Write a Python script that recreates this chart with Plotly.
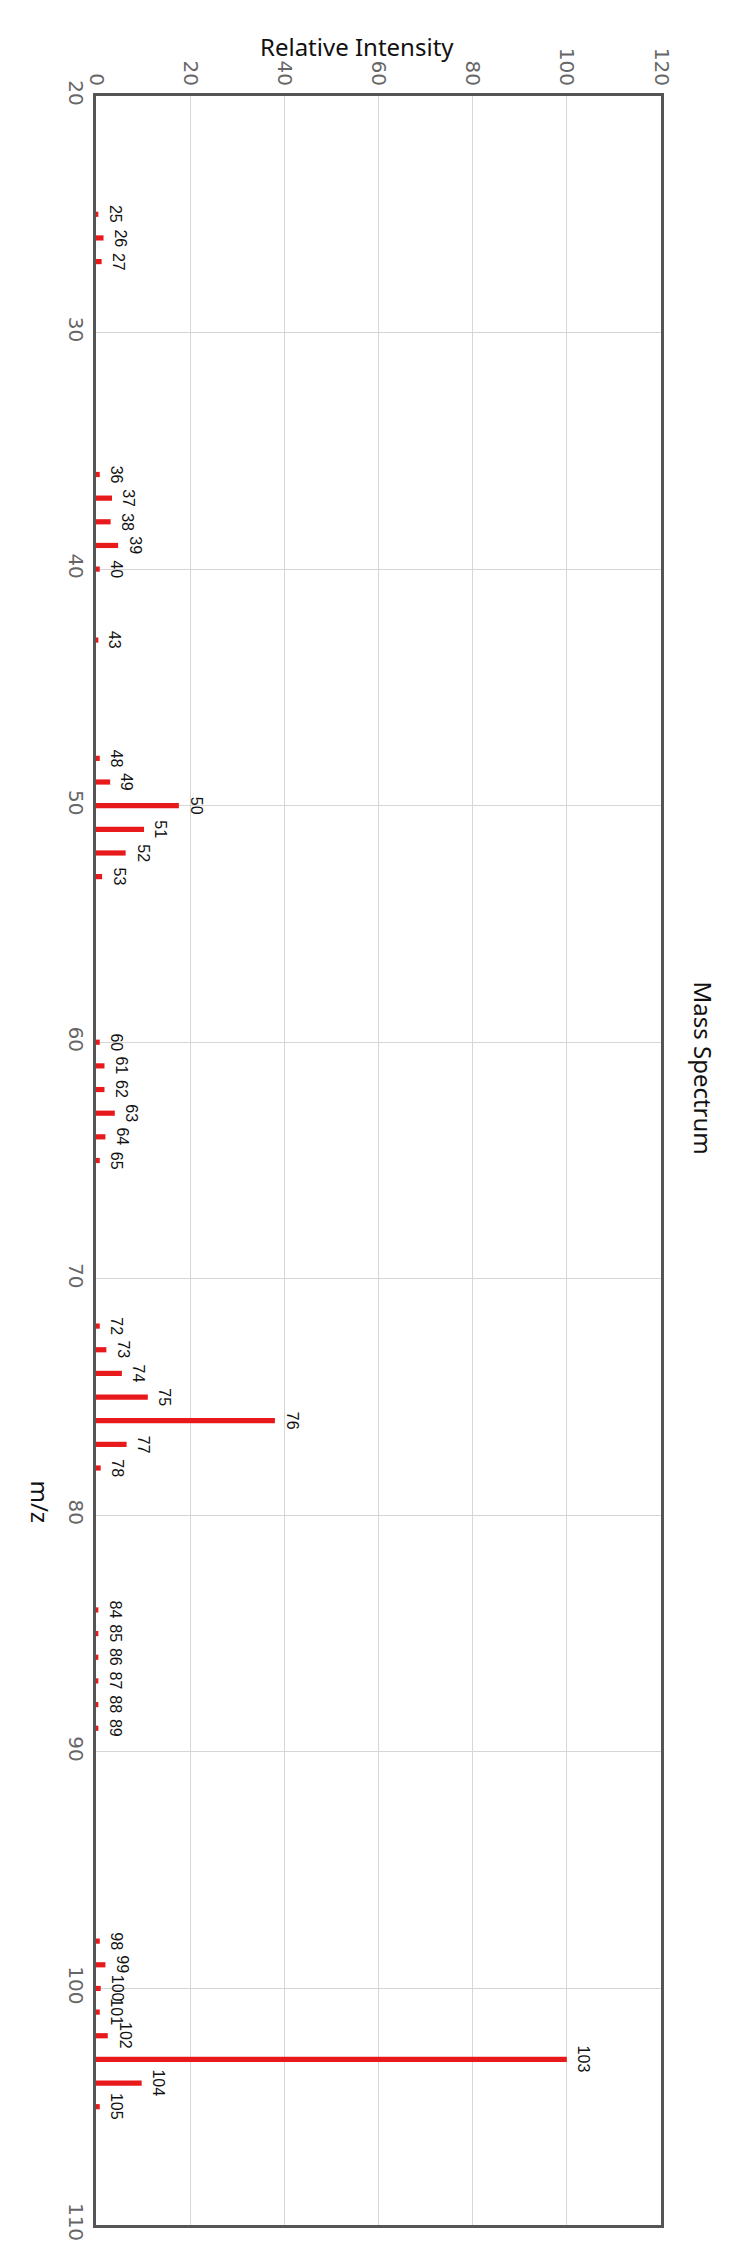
import plotly.graph_objects as go

mz = [25, 26, 27, 36, 37, 38, 39, 40, 43, 48, 49, 50, 51, 52, 53,
      60, 61, 62, 63, 64, 65, 72, 73, 74, 75, 76, 77, 78,
      84, 85, 86, 87, 88, 89, 98, 99, 100, 101, 102, 103, 104, 105]
intensity = [0.5, 1.6, 1.2, 0.8, 3.4, 3.1, 4.7, 0.8, 0.5, 0.8, 3.0, 17.6, 10.2, 6.3, 1.3,
             0.8, 1.8, 1.8, 4.0, 2.0, 0.8, 0.8, 2.2, 5.5, 11.0, 38.0, 6.5, 1.0,
             0.5, 0.5, 0.5, 0.5, 0.5, 0.5, 0.8, 2.0, 1.0, 0.8, 2.5, 100.0, 9.7, 0.8]
x_ticks = [0, 20, 40, 60, 80, 100, 120]
y_ticks = [20, 30, 40, 50, 60, 70, 80, 90, 100, 110]

fig = go.Figure(go.Bar(x=intensity, y=mz, orientation="h", width=0.22,
                       marker=dict(color="#e8191a", line=dict(width=0))))

ann = [dict(x=v, y=m, xref="x", yref="y", text=str(m), textangle=90, showarrow=False,
            xshift=17, font=dict(family="Liberation Sans", size=16, color="#111"))
       for m, v in zip(mz, intensity)]
L, R, T, B = 88, 86, 88, 44
W, H = 739, 2261
pw, ph = W - L - R, H - T - B
def px(x, y):
    return (x - L) / pw, 1 - (y - T) / ph
for text, (x, y), ang in [("Relative Intensity", (349, 20), 0), ("m/z", (14, 1494), 90),
                          ("Mass Spectrum", (714, 1060), 90)]:
    ax, ay = px(x, y)
    ann.append(dict(text=text, x=ax, y=ay, xref="paper", yref="paper", showarrow=False,
                    textangle=ang, font=dict(family="Noto Sans", size=24, color="#111")))

axis_common = dict(showgrid=True, gridcolor="#d6d6d6", gridwidth=1, zeroline=False,
                   showline=True, linecolor="#555", linewidth=3, mirror=True, ticks="",
                   tickangle=90, automargin=False,
                   tickfont=dict(family="DejaVu Sans", size=20, color="#666"))
fig.update_layout(
    width=W, height=H, margin=dict(l=L, r=R, t=T, b=B),
    plot_bgcolor="white", paper_bgcolor="white", showlegend=False,
    annotations=ann,
    xaxis=dict(side="top", range=[0, 120], tickvals=x_ticks, **axis_common),
    yaxis=dict(range=[110, 20], tickvals=y_ticks, **axis_common),
)
fig.write_html("out.html")
